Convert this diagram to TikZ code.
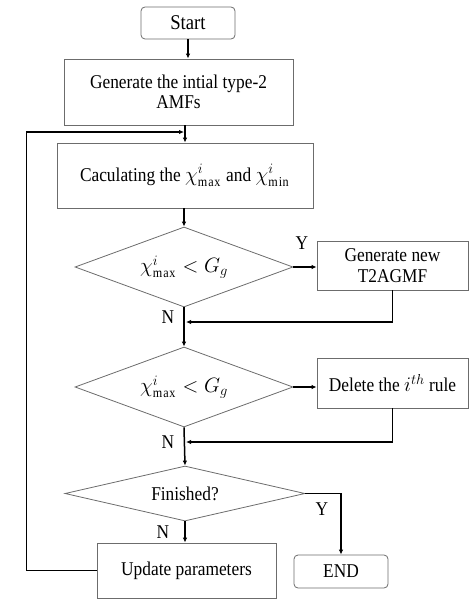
\documentclass[tikz,border=0pt]{standalone}
\usepackage{fontspec}
\setmainfont{Liberation Serif}[FakeStretch=0.89]
\usetikzlibrary{shapes.geometric,arrows.meta}

\begin{document}
\begin{tikzpicture}[x=1pt,y=-1pt,
    font=\fontsize{19.5}{20.5}\selectfont,
    box/.style={draw=gray!85!black, line width=0.8pt, align=center, inner sep=0pt},
    term/.style={box, rounded corners=4pt},
    cond/.style={draw=gray!85!black, line width=0.8pt, diamond, inner sep=0pt, align=center},
    line/.style={black, line width=1.5pt, -{Latex[length=5pt,width=4.5pt]}}]
            \useasboundingbox (0,0) rectangle (474,602);

            \node[term, minimum width=94pt, minimum height=32pt, font=\fontsize{21}{22}\selectfont] (start) at (188,23) {Start};
            \node[box, minimum width=229pt, minimum height=66pt] (gen) at (178.5,92) {Generate the intial type-2\\AMFs};
            \node[box, minimum width=256pt, minimum height=65pt] (calc) at (185,175.5) {Caculating the $\chi^{i}_{\max}$ and $\chi^{i}_{\min}$};
            \node[cond, aspect=2.725, minimum width=218pt, minimum height=80pt] (d1) at (184,267) {$\chi^{i}_{\max}<G_g$};
            \node[box, minimum width=151pt, minimum height=49pt, font=\fontsize{19.5}{21.5}\selectfont] (t2a) at (392.5,265.5) {Generate new\\T2AGMF};
            \node[cond, aspect=2.725, minimum width=218pt, minimum height=80pt] (d2) at (184,387) {$\chi^{i}_{\max}<G_g$};
            \node[box, minimum width=151pt, minimum height=50pt] (del) at (392.5,383) {Delete the $i^{th}$ rule};
            \node[cond, aspect=4.36, minimum width=240pt, minimum height=55pt] (d3) at (185,493.5) {Finished?};
            \node[term, minimum width=94pt, minimum height=33pt] (endb) at (341,571.5) {END};
            \node[box, minimum width=179pt, minimum height=55pt] (upd) at (186.5,570.5) {Update parameters};

            \coordinate (j0) at (184,132);
            \coordinate (j1) at (186,322);
            \coordinate (j2) at (186,442);

            \draw[line] (start.south) -- (start.south |- gen.north);
            \draw[line] (calc.north |- gen.south) -- (calc.north);
            \draw[line] (d1.north |- calc.south) -- (d1.north);
            \draw[line] (d1.east) -- (d1.east -| t2a.west);
            \draw[line] (t2a.south) |- (j1);
            \draw[line] (d1.south) -- (d2.north);
            \draw[line] (d2.east) -- (d2.east -| del.west);
            \draw[line] (del.south) |- (j2);
            \draw[line] (d2.south) -- (d3.north);
            \draw[line] (d3.east) -| (endb.north);
            \draw[line] (d3.south) -- (d3.south |- upd.north);
            \draw[line] (upd.west) -- ++(-70,0) |- (j0);

            \node (y1) at (302,243) {Y};
            \node (n1) at (168,317) {N};
            \node (n2) at (168,442) {N};
            \node (y2) at (322,509) {Y};
            \node (n3) at (163,532) {N};
        \end{tikzpicture}
\end{document}
